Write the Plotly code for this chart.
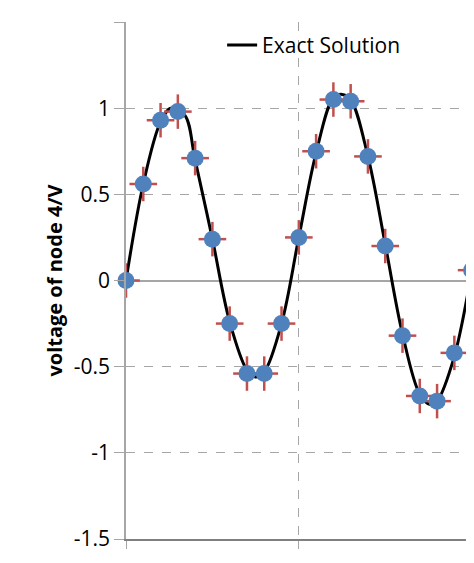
import plotly.graph_objects as go

# sample index (time step) and voltages
x_vals = [0, 1, 2, 3, 4, 5, 6, 7, 8, 9, 10, 11, 12, 13, 14, 15, 16, 17, 18, 19, 20]
numeric = [0, 0.56, 0.93, 0.98, 0.71, 0.24, -0.25, -0.54, -0.54, -0.25, 0.25,
           0.75, 1.05, 1.04, 0.72, 0.20, -0.32, -0.67, -0.70, -0.42, 0.06]
x_exact = [0, 1, 2, 2.6, 3.4, 4, 5, 6, 7, 7.5, 8, 9, 10, 11, 12, 12.5, 13, 14, 15, 16, 17, 17.6, 18, 19, 20, 20.6]
exact = [0, 0.56, 0.92, 1.0, 0.96, 0.70, 0.24, -0.24, -0.52, -0.56, -0.53, -0.25, 0.25,
         0.74, 1.06, 1.08, 1.05, 0.72, 0.21, -0.31, -0.66, -0.72, -0.70, -0.44, 0.04, 0.34]
y_err = [0.1] * len(x_vals)
x_err = [0.8] * len(x_vals)

fig = go.Figure()
fig.add_trace(go.Scatter(
    x=x_exact, y=exact, mode="lines", name="Exact Solution",
    line=dict(color="black", width=3, shape="spline"),
))
fig.add_trace(go.Scatter(
    x=x_vals, y=numeric, mode="markers", showlegend=False, cliponaxis=False,
    marker=dict(color="#4f81bd", size=17),
    error_y=dict(type="data", array=y_err, color="#c0504d", thickness=2.5, width=0),
    error_x=dict(type="data", array=x_err, color="#c0504d", thickness=2.5, width=0),
))

grid = dict(showgrid=True, gridcolor="#a6a6a6", griddash="dash", gridwidth=1)
fig.update_layout(
    width=474, height=563,
    margin=dict(l=118, r=0, t=14, b=32),
    plot_bgcolor="white", paper_bgcolor="white",
    font=dict(family="Open Sans, Liberation Sans", size=21, color="black"),
    legend=dict(x=0.27, y=0.955, xanchor="left", yanchor="middle",
                bgcolor="rgba(0,0,0,0)", font=dict(size=21)),
    xaxis=dict(range=[0, 20.6], dtick=10, showticklabels=False, zeroline=False,
               automargin=False,
               showline=True, linecolor="#808080", linewidth=2,
               ticks="outside", ticklen=8, tickcolor="#a6a6a6", **grid),
    yaxis=dict(range=[-1.5, 1.5], dtick=0.5, tickvals=[-1.5, -1, -0.5, 0, 0.5, 1, 1.5],
               ticktext=["-1.5", "-1", "-0.5", "0", "0.5", "1", "1.5"],
               automargin=False,
               zeroline=True, zerolinecolor="#a6a6a6", zerolinewidth=1.5,
               showline=True, linecolor="#a6a6a6", linewidth=1.5,
               ticks="outside", ticklen=10, tickcolor="#a6a6a6",
               title=dict(text="<b>voltage of node 4/V</b>", standoff=6, font=dict(size=20)),
               **grid),
)

fig.write_html("out.html")
